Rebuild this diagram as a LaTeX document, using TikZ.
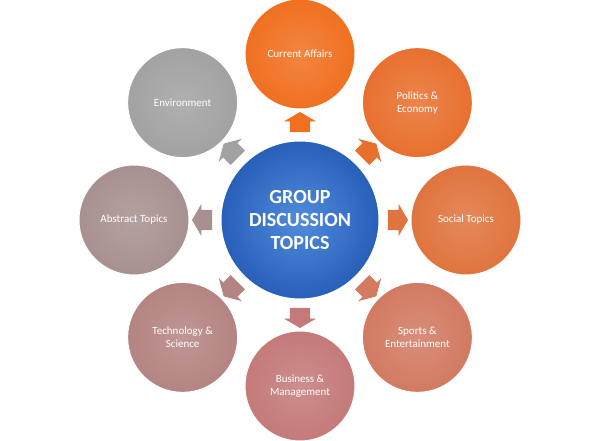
\documentclass[tikz,border=0pt]{standalone}
\usepackage{fontspec}
\setmainfont{Carlito}
\usetikzlibrary{shapes.arrows,calc}
\tikzset{
 topic/.style={circle,minimum size=110pt,inner sep=0pt,draw=white,line width=1pt,text=white,font=\fontsize{11}{13}\selectfont,align=center,inner color=#1!85!white,outer color=#1},
 outarrow/.style={single arrow,minimum height=20pt,inner xsep=0pt,inner ysep=10pt,single arrow head extend=6pt,single arrow tip angle=120,fill=#1,draw=none},
}
\begin{document}
\begin{tikzpicture}[x=1pt,y=1pt]
\useasboundingbox (0,0) rectangle (600,441);
\fill[white] (0,0) rectangle (600,441);
\definecolor{c1}{HTML}{F07020}
\definecolor{c2}{HTML}{E8702E}
\definecolor{c3}{HTML}{E0743E}
\definecolor{c4}{HTML}{D27A62}
\definecolor{c5}{HTML}{C47A78}
\definecolor{c6}{HTML}{B48482}
\definecolor{c7}{HTML}{A89090}
\definecolor{c8}{HTML}{A2A2A2}
\coordinate (o) at (300,221);
\node[circle,minimum size=158pt,draw=white,line width=1pt,inner color={rgb,255:red,80;green,140;blue,220},outer color={rgb,255:red,40;green,95;blue,185},text=white,font=\fontsize{20}{23}\selectfont\bfseries,align=center] (center) at (o) {GROUP\\DISCUSSION\\TOPICS};
\foreach \n/\a/\c/\t in {t1/90/c1/{Current Affairs},t2/45/c2/{Politics \&\\Economy},t3/0/c3/{Social Topics},t4/-45/c4/{Sports \&\\Entertainment},t5/-90/c5/{Business \&\\Management},t6/-135/c6/{Technology \&\\Science},t7/180/c7/{Abstract Topics},t8/135/c8/{Environment}}{
 \node[topic=\c] (\n) at ($(o)+(\a:166)$) {\t};
 \node[outarrow=\c,rotate=\a] (a\n) at ($(o)+(\a:95)$) {};
}
\end{tikzpicture}
\end{document}
